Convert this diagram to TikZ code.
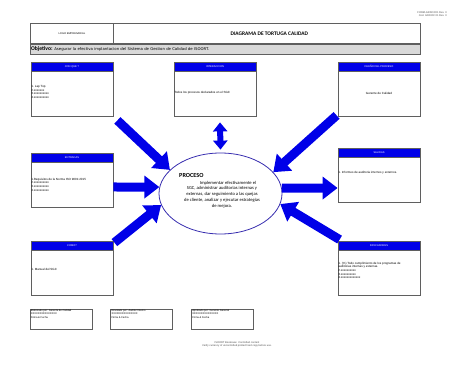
\documentclass[tikz,border=0pt]{standalone}
\usepackage{fontspec}
\setmainfont{Carlito}
\newfontfamily\arialfont{Liberation Sans}
\newfontfamily\anchafont{DejaVu Sans}
\usetikzlibrary{shapes.geometric,arrows.meta,positioning,calc}

\definecolor{azulflecha}{RGB}{0,0,232}
\definecolor{azulelipse}{RGB}{55,45,175}
\definecolor{bordecaja}{RGB}{95,95,95}
\definecolor{grisobjetivo}{RGB}{217,217,217}

\tikzset{
	caja/.style={draw=bordecaja, line width=0.8pt, minimum width=82pt, minimum height=54pt, inner sep=0},
	cabecera/.style={draw=bordecaja, fill=azulflecha, line width=0.8pt, minimum width=82pt, minimum height=9pt, inner sep=0, text=white, font=\arialfont\fontsize{2.6}{3}\selectfont},
	contenido/.style={font=\arialfont\fontsize{3}{3.7}\selectfont, align=left, inner sep=0.5pt},
	firma/.style={draw=bordecaja, line width=0.7pt, minimum width=62pt, minimum height=20pt, inner sep=0},
	letrachica/.style={font=\arialfont\fontsize{2.6}{3.6}\selectfont, inner sep=0},
	flecha/.style={azulflecha, line width=9pt, -{Triangle[length=15pt,width=22pt]}},
	flechadoble/.style={azulflecha, line width=6pt, {Triangle[length=9pt,width=14pt]}-{Triangle[length=9pt,width=14pt]}}
}

\begin{document}
\begin{tikzpicture}[x=1pt, y=1pt]
	\useasboundingbox (0,0) rectangle (474,366);
	% Encabezado:
	\node[letrachica, align=right, anchor=north east, text=black!70] (codigo) at (447,355) {FORM-GRDOC01 Rev. 0\\Cod. GRDOC 01 Rev. 0};
	\node[draw=bordecaja, line width=0.8pt, minimum width=390pt, minimum height=20pt, inner sep=0, anchor=north west] (encabezado) at (30,343) {};
	\node[draw=bordecaja, line width=0.8pt, minimum width=83pt, minimum height=20pt, inner sep=0, anchor=north west, font=\arialfont\fontsize{2.6}{3}\selectfont] (logo) at (encabezado.north west) {LOGO EMPRESARIAL};
	\node[font=\fontsize{5.4}{6}\selectfont\bfseries] (titulo) at ([xshift=2pt]$(logo.east)!0.5!(encabezado.east)$) {DIAGRAMA DE TORTUGA CALIDAD};
	\node[draw=bordecaja, fill=grisobjetivo, line width=0.8pt, minimum width=390pt, minimum height=10pt, inner sep=0, anchor=north west] (objetivo) at (encabezado.south west) {};
	\node[anchor=west, inner sep=1pt] (objetivoT) at (objetivo.west) {\fontsize{5.6}{6}\selectfont\bfseries Objetivo:\mdseries\anchafont\fontsize{3.85}{5}\selectfont{} Asegurar la efectiva implantacion del Sistema de Gestion de Calidad de ISOORT.};

	% Cajas:
	\node[caja] (conque) at (72,277) {};
	\node[cabecera, anchor=north] (conqueT) at (conque.north) {CON QUE ?};
	\node[contenido, anchor=west] (conqueC) at ([yshift=-3pt]conque.west) {1. Lap Top\\2.xxxxxxx\\3.xxxxxxxxxx\\4.xxxxxxxxxx};

	\node[caja] (interaccion) at (215,277) {};
	\node[cabecera, anchor=north] (interaccionT) at (interaccion.north) {INTERACCION};
	\node[contenido, anchor=west] (interaccionC) at ([yshift=-4pt]interaccion.west) {Todos los procesos declarados en el SGC};

	\node[caja] (dueno) at (379,277) {};
	\node[cabecera, anchor=north] (duenoT) at (dueno.north) {DUEÑO DEL PROCESO};
	\node[contenido] (duenoC) at ([yshift=-4pt]dueno.center) {Gerente de Calidad};

	\node[caja] (entradas) at (72,185.5) {};
	\node[cabecera, anchor=north] (entradasT) at (entradas.north) {ENTRADAS};
	\node[contenido, anchor=west] (entradasC) at ([yshift=-4pt]entradas.west) {1.Requisitos de la Norma ISO 9001:2015\\2.xxxxxxxxxx\\3.xxxxxxxxxx\\4.xxxxxxxxxx};

	\node[caja] (salidas) at (379,191) {};
	\node[cabecera, anchor=north] (salidasT) at (salidas.north) {SALIDAS};
	\node[contenido, anchor=west] (salidasC) at ([yshift=2pt]salidas.west) {1. Informes de auditoria internos y externos.};

	\node[caja] (como) at (72,98) {};
	\node[cabecera, anchor=north] (comoT) at (como.north) {COMO?};
	\node[contenido, anchor=west] (comoC) at ([yshift=-1pt]como.west) {1. Manual del SGC};

	\node[caja] (indicadores) at (379,98) {};
	\node[cabecera, anchor=north] (indicadoresT) at (indicadores.north) {INDICADORES};
	\node[contenido, anchor=west] (indicadoresC) at ([yshift=-2.5pt]indicadores.west) {1. (\%) Todo cumplimiento de los programas de\\auditorias internas y externas.\\2.xxxxxxxxxx\\3.xxxxxxxxxx\\4.xxxxxxxxxxxxx};

	% Proceso:
	\node[ellipse, draw=azulelipse, line width=0.8pt, minimum width=123pt, minimum height=81pt, inner sep=0] (proceso) at (220.5,172.5) {};
	\node[anchor=west, inner sep=0, font=\fontsize{6.2}{7}\selectfont\bfseries] (procesoT) at ([shift={(-41.5,18.5)}]proceso.center) {PROCESO};
	\node[align=center, inner sep=0, font=\fontsize{4.6}{5.8}\selectfont] (procesoC) at ([shift={(1.5,-1)}]proceso.center) {\hspace{12pt}Implementar efectivamente el\\SGC, administrar auditorias internas y\\externas, dar seguimiento a las quejas\\de cliente, analizar y ejecutar estrategias\\de mejora.};

	% Flechas:
	\draw[flecha] ([shift={(4,-4)}]conque.south east) -- (proceso.155);
	\draw[flecha] ([yshift=-6.5pt]entradas.east) -- (proceso.174);
	\draw[flecha] ([shift={(1,-2)}]como.north east) -- (proceso.191);
	\draw[flechadoble] ([shift={(5,-6)}]interaccion.south) -- ([yshift=3pt]proceso.north);
	\draw[flecha] ([shift={(-1,1)}]dueno.south west) -- (proceso.22);
	\draw[flecha] (proceso.5) -- ([yshift=-13pt]salidas.west);
	\draw[flecha] ([shift={(2,1)}]indicadores.north west) -- (proceso.350);

	% Firmas:
	\node[firma] (elaborado) at (61,47) {};
	\node[letrachica, align=left, anchor=north west] (elaboradoT) at ([shift={(1,-0.5)}]elaborado.north west) {Elaborado por: Gerente de Calidad\\XXXXXXXXXXXXXXX\\Firma \& Fecha};
	\node[firma, right=18pt of elaborado] (revisado) {};
	\node[letrachica, align=left, anchor=north west] (revisadoT) at ([shift={(1,-0.5)}]revisado.north west) {Revisado por: Auditor Interno\\XXXXXXXXXXXXXXX\\Firma \& Fecha};
	\node[firma, right=18pt of revisado] (aprobado) {};
	\node[letrachica, align=left, anchor=north west] (aprobadoT) at ([shift={(1,-0.5)}]aprobado.north west) {Aprobado por: Gerente General\\XXXXXXXXXXXXXXX\\Firma \& Fecha};

	\node[letrachica, align=center, text=black!70] (pie) at (237,21.5) {ISOORT Bookcase: Controlled content\\Verify currency of uncontrolled printed hard copy before use.};
\end{tikzpicture}
\end{document}
